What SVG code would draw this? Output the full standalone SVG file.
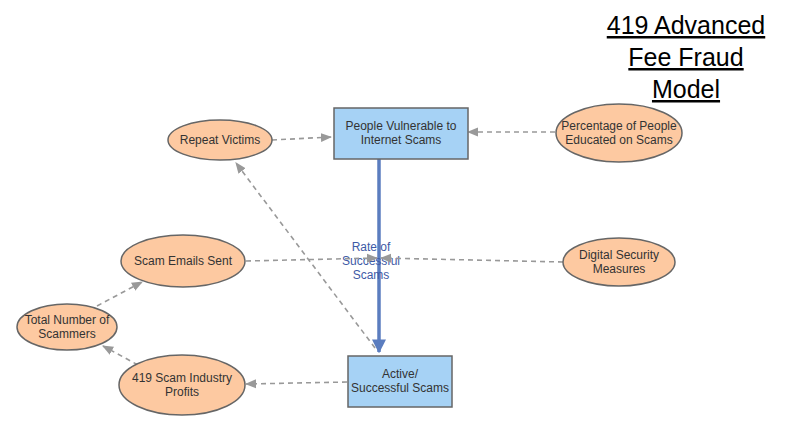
<svg xmlns="http://www.w3.org/2000/svg" width="800" height="427" viewBox="0 0 800 427">
<style>
text{font-family:"Comic Sans MS","Liberation Sans",sans-serif;font-size:12px;fill:#333;text-anchor:middle}
.e{fill:#fdc9a1;stroke:#666;stroke-width:1.5}
.r{fill:#a6d2f5;stroke:#666;stroke-width:1.5}
.d{stroke:#999;stroke-width:1.6;stroke-dasharray:5 4;fill:none;marker-end:url(#ga)}
.title{font-size:25px;fill:#000;text-decoration:underline}
</style>
<defs>
<marker id="ga" viewBox="0 0 10 10" refX="9" refY="5" markerWidth="7" markerHeight="7" orient="auto"><path d="M0,1L10,5L0,9Z" fill="#999"/></marker>
<marker id="ba" viewBox="0 0 10 10" refX="9" refY="5" markerWidth="4" markerHeight="4" orient="auto"><path d="M0,0L10,5L0,10Z" fill="#5b7dbf"/></marker>
</defs>
<rect width="800" height="427" fill="#fff"/>
<g id="title"><text class="title" x="686" y="34">419 Advanced</text><text class="title" x="686" y="66">Fee Fraud</text><text class="title" x="686" y="98">Model</text></g>
<g id="connectors">
<line x1="379" y1="159" x2="379" y2="352" stroke="#5b7dbf" stroke-width="3.5" marker-end="url(#ba)"/>
<text x="371" y="251" style="fill:#3e5aa6">Rate of</text><text x="371" y="265" style="fill:#3e5aa6">Successful</text><text x="371" y="279" style="fill:#3e5aa6">Scams</text>
<line class="d" x1="272" y1="140" x2="331" y2="137"/>
<line class="d" x1="555" y1="132" x2="468" y2="132"/>
<line class="d" x1="246" y1="261" x2="377" y2="258"/>
<line class="d" x1="563" y1="262" x2="381" y2="258"/>
<line class="d" x1="375" y1="348" x2="236" y2="163"/>
<line class="d" x1="347" y1="382" x2="246" y2="384"/>
<line class="d" x1="97" y1="306" x2="142" y2="282"/>
<line class="d" x1="138" y1="365" x2="103" y2="346"/>
</g>
<g id="n1"><rect class="r" x="334" y="108" width="134" height="51"/><text x="401" y="130">People Vulnerable to</text><text x="401" y="144">Internet Scams</text></g>
<g id="n2"><rect class="r" x="348" y="356" width="104" height="51"/><text x="400" y="378">Active/</text><text x="400" y="392">Successful Scams</text></g>
<g id="n3"><ellipse class="e" cx="220" cy="140" rx="52" ry="20"/><text x="220" y="144">Repeat Victims</text></g>
<g id="n4"><ellipse class="e" cx="619" cy="133" rx="63" ry="29"/><text x="619" y="130">Percentage of People</text><text x="619" y="144">Educated on Scams</text></g>
<g id="n5"><ellipse class="e" cx="183" cy="261" rx="62" ry="26"/><text x="183" y="265">Scam Emails Sent</text></g>
<g id="n6"><ellipse class="e" cx="619" cy="262" rx="56" ry="24"/><text x="619" y="259">Digital Security</text><text x="619" y="273">Measures</text></g>
<g id="n7"><ellipse class="e" cx="67" cy="327" rx="50" ry="23"/><text x="67" y="324">Total Number of</text><text x="67" y="338">Scammers</text></g>
<g id="n8"><ellipse class="e" cx="182" cy="385" rx="63" ry="30"/><text x="182" y="382">419 Scam Industry</text><text x="182" y="396">Profits</text></g>
</svg>
